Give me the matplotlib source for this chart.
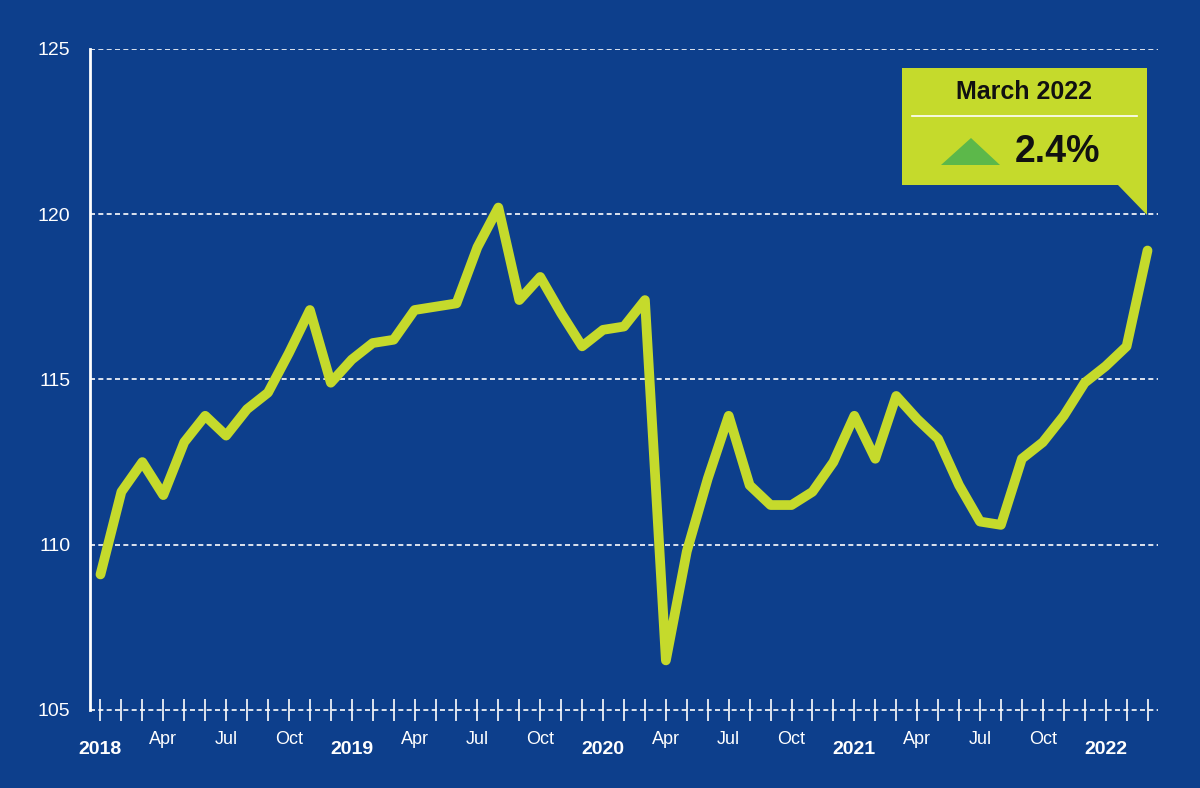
import matplotlib.pyplot as plt
from matplotlib.patches import Polygon

plt.rcParams['font.family'] = ['Liberation Sans', 'DejaVu Sans']

months = list(range(51))  # Jan 2018 .. Mar 2022
values = [109.1, 111.6, 112.5, 111.5, 113.1, 113.9, 113.3, 114.1, 114.6, 115.8, 117.1, 114.9,
          115.6, 116.1, 116.2, 117.1, 117.2, 117.3, 119.0, 120.2, 117.4, 118.1, 117.0, 116.0,
          116.5, 116.6, 117.4, 106.5, 109.8, 112.0, 113.9, 111.8, 111.2, 111.2, 111.6, 112.5,
          113.9, 112.6, 114.5, 113.8, 113.2, 111.8, 110.7, 110.6, 112.6, 113.1, 113.9, 114.9,
          115.4, 116.0, 118.9]
month_names = ["", "", "", "Apr", "", "", "Jul", "", "", "Oct", "", ""]
years = ["2018", "2019", "2020", "2021", "2022"]
yticks = [105, 110, 115, 120, 125]

bg = "#0d3f8c"
lime = "#c5da2c"

fig = plt.figure(figsize=(12, 7.88), dpi=100, facecolor=bg)
ax = fig.add_axes([0.075, 0.099, 0.89, 0.839])
ax.set_facecolor(bg)
ax.set_xlim(-0.5, 50.5)
ax.set_ylim(105, 125)

for y in yticks[1:]:
    ax.axhline(y, color="white", lw=1.2, ls=(0, (3, 2)), zorder=1)
ax.plot(months, values, color=lime, lw=7, solid_joinstyle="round",
        solid_capstyle="round", zorder=3)

for s in ["top", "right", "bottom"]:
    ax.spines[s].set_visible(False)
ax.spines["left"].set_color("white")
ax.spines["left"].set_linewidth(2)
ax.set_yticks(yticks)
ax.set_yticklabels([str(y) for y in yticks], color="white", fontsize=14)
ax.tick_params(axis="y", length=0, pad=14)
ax.set_xticks(months)
ax.set_xticklabels([])
ax.tick_params(axis="x", direction="inout", length=16, color="white", width=1.2)
ax.axhline(105, color="white", lw=1.2, ls=(0, (3, 2)), zorder=1, clip_on=False)

for m in months:
    name = month_names[m % 12]
    if name:
        ax.text(m, 104.35, name, color="white", fontsize=13, ha="center", va="top")
for i, yr in enumerate(years):
    ax.text(i * 12, 104.05, yr, color="white", fontsize=14, fontweight="bold",
            ha="center", va="top")

# callout box
def fxy(px, py):
    return (px / 1200, 1 - py / 788)
pts = [fxy(902, 68), fxy(1147, 68), fxy(1147, 215), fxy(1118, 185), fxy(902, 185)]
fig.patches.append(Polygon(pts, closed=True, transform=fig.transFigure,
                           facecolor=lime, edgecolor="none", zorder=5))
fig.text(*fxy(1024, 92), "March 2022", fontsize=18, fontweight="bold", color="#111111",
         ha="center", va="center", zorder=6)
fig.lines.append(plt.Line2D([912 / 1200, 1137 / 1200], [1 - 116 / 788] * 2,
                            transform=fig.transFigure, color="white", lw=1.2, zorder=6))
fig.patches.append(Polygon([fxy(941, 165), fxy(971, 138), fxy(1000, 165)], closed=True,
                           transform=fig.transFigure, facecolor="#5cb84a",
                           edgecolor="none", zorder=6))
fig.text(*fxy(1058, 152), "2.4%", fontsize=27, fontweight="bold", color="#111111",
         ha="center", va="center", zorder=6)

fig.savefig("out.png", dpi=100, facecolor=bg)
